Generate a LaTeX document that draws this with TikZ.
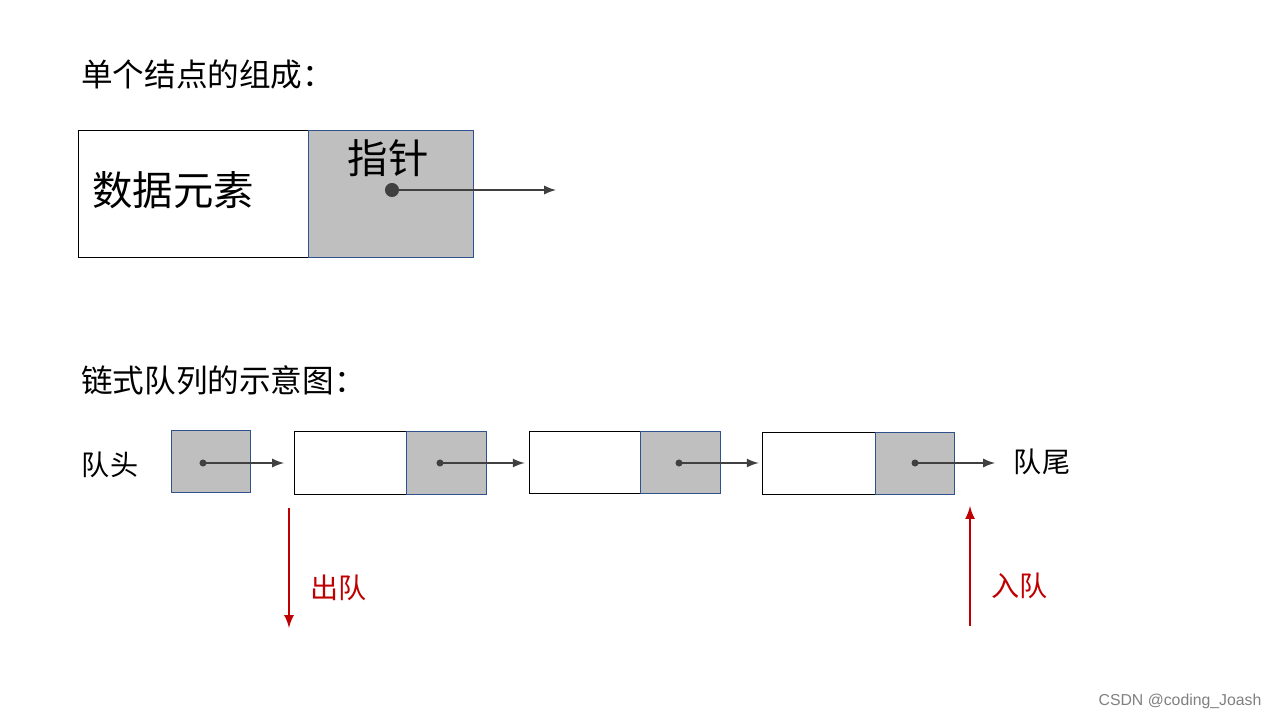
\documentclass[tikz,border=0pt]{standalone}
\usepackage{fontspec}
\usepackage{xcolor}
\setmainfont{Noto Sans CJK SC}
\setsansfont{Liberation Sans}
\definecolor{cellgray}{RGB}{191,191,191}
\definecolor{cellblue}{RGB}{47,82,143}
\definecolor{ptr}{RGB}{64,64,64}
\definecolor{qred}{RGB}{192,0,0}

\begin{document}
\begin{tikzpicture}[x=0.02cm,y=-0.02cm,
    datacell/.style={draw,fill=white,inner sep=0pt},
    ptrcell/.style={draw=cellblue,fill=cellgray,inner sep=0pt},
    ptrarrow/.style={ptr,line width=1.3pt,-latex},
    qarrow/.style={qred,line width=1.5pt,-latex}]
    \useasboundingbox (0,0) rectangle (1280,720);

    \path (75,75) node [anchor=west,font=\fontsize{18}{20}\selectfont] (t1) {单个结点的组成：};
    \path (193,193.5) node [datacell,minimum width=230*0.02cm,minimum height=127*0.02cm] (da) {};
    \path (390.5,193.5) node [ptrcell,minimum width=165*0.02cm,minimum height=127*0.02cm] (pa) {};
    \path (173,190) node [font=\fontsize{23}{25}\selectfont] (dat) {数据元素};
    \path (388,158) node [font=\fontsize{23}{25}\selectfont] (pat) {指针};
    \path (392,190) node [circle,fill=ptr,inner sep=0pt,minimum size=8pt] (pd) {};
    \coordinate (pe) at (556,190);
    \draw [ptrarrow] (pd.center) -- (pe);

    \path (75,380) node [anchor=west,font=\fontsize{18}{20}\selectfont] (t2) {链式队列的示意图：};

    \path (110,465) node [font=\fontsize{16}{18}\selectfont] (head) {队头};
    \path (210.5,461) node [ptrcell,minimum width=79*0.02cm,minimum height=62*0.02cm] (h) {};
    \path (203,463) node [circle,fill=ptr,inner sep=0pt,minimum size=4pt] (hd) {};
    \coordinate (he) at (284,463);
    \draw [ptrarrow] (hd.center) -- (he);

    \path (350,462.5) node [datacell,minimum width=112*0.02cm,minimum height=63*0.02cm] (d1) {};
    \path (446,462.5) node [ptrcell,minimum width=80*0.02cm,minimum height=63*0.02cm] (p1) {};
    \path (440,463) node [circle,fill=ptr,inner sep=0pt,minimum size=4pt] (pd1) {};

    \path (584.5,462) node [datacell,minimum width=111*0.02cm,minimum height=62*0.02cm] (d2) {};
    \path (680,462) node [ptrcell,minimum width=80*0.02cm,minimum height=62*0.02cm] (p2) {};
    \path (679,463) node [circle,fill=ptr,inner sep=0pt,minimum size=4pt] (pd2) {};

    \path (818.5,463) node [datacell,minimum width=113*0.02cm,minimum height=62*0.02cm] (d3) {};
    \path (914.5,463) node [ptrcell,minimum width=79*0.02cm,minimum height=62*0.02cm] (p3) {};
    \path (915,463) node [circle,fill=ptr,inner sep=0pt,minimum size=4pt] (pd3) {};
    \draw [ptrarrow] (pd1.center) -- ([xshift=-0.08cm]d2.west |- pd1);
    \draw [ptrarrow] (pd2.center) -- ([xshift=-0.06cm]d3.west |- pd2);
    \coordinate (pe3) at (995,463);
    \draw [ptrarrow] (pd3.center) -- (pe3);
    \path (1042,462) node [font=\fontsize{16}{18}\selectfont] (tail) {队尾};

    \coordinate (outa) at (289,508);
    \coordinate (outb) at (289,628);
    \draw [qarrow] (outa) -- (outb) node[midway,right=8pt,yshift=-0.4cm,text=qred,font=\fontsize{16}{18}\selectfont] {出队};
    \coordinate (ina) at (970,626);
    \coordinate (inb) at (970,506);
    \draw [qarrow] (ina) -- (inb) node[midway,right=8pt,yshift=-0.4cm,text=qred,font=\fontsize{16}{18}\selectfont] {入队};

    \path (1180,701) node [text=gray,font=\sffamily\fontsize{9}{10}\selectfont] (wm) {CSDN @coding\_Joash};
\end{tikzpicture}
\end{document}
